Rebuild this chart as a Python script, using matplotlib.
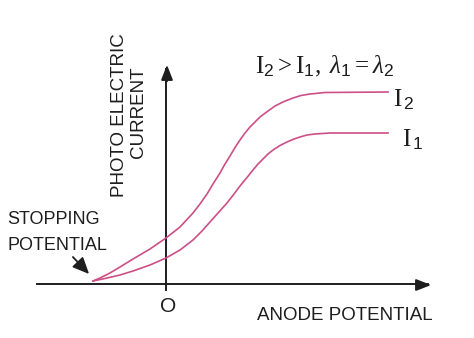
import matplotlib.pyplot as plt

plt.rcParams['font.family'] = ['Liberation Sans', 'DejaVu Sans']
plt.rcParams['mathtext.fontset'] = 'custom'
plt.rcParams['mathtext.rm'] = 'Liberation Serif'
plt.rcParams['mathtext.it'] = 'Liberation Serif:italic'
plt.rcParams['mathtext.sf'] = 'Liberation Sans'

# anode potential (arbitrary units, 0 = origin) and photo current
v_i2 = [-73, -66, -56, -46, -33, -16, 0, 14, 27, 34, 41, 47, 54, 59, 64, 69, 74, 79, 84, 94,
        100, 109, 118, 127, 135, 144, 159, 222]
i2 = [3, 6, 11, 17, 25, 35, 46, 57, 71, 80, 90, 100, 111, 120, 128, 136.5, 144, 151, 157, 167,
      171.5, 178, 182.5, 186, 188.5, 190, 191.5, 192]
v_i1 = [-73, -61, -46, -33, -16, 0, 14, 27, 36, 44, 52, 61, 68, 74, 81, 87, 92, 97, 102, 107,
        114, 121, 128, 134, 141, 149, 164, 222]
i1 = [3, 5.5, 9, 13, 19, 26, 34, 44, 53, 62, 71, 81, 90, 98, 106.5, 114, 120, 125, 130, 134,
      138.5, 142, 145, 147, 149, 150, 151, 151]

curve_col = '#cc4f88'
axis_col = '#1e1e1e'

fig = plt.figure(figsize=(4.74, 3.38), dpi=100)
ax = fig.add_axes([0, 0, 1, 1])
ax.set_xlim(-166, 308)
ax.set_ylim(-54, 284)
ax.axis('off')

# axes with arrow heads
ax.plot([-129, 262], [0, 0], color=axis_col, lw=1.4)
ax.annotate('', xy=(268, -1), xytext=(250, -1),
            arrowprops=dict(arrowstyle='-|>,head_length=0.9,head_width=0.35',
                            color=axis_col, lw=1.4))
ax.plot([0, 0], [-6, 215], color=axis_col, lw=1.4)
ax.annotate('', xy=(1, 222), xytext=(1, 200),
            arrowprops=dict(arrowstyle='-|>,head_length=0.9,head_width=0.35',
                            color=axis_col, lw=1.4))

# curves
ax.plot(v_i2, i2, color=curve_col, lw=1.2, solid_joinstyle='round')
ax.plot(v_i1, i1, color=curve_col, lw=1.2, solid_joinstyle='round')

# stopping potential arrow
ax.annotate('', xy=(-75, 8), xytext=(-95, 29),
            arrowprops=dict(arrowstyle='-|>,head_length=1.0,head_width=0.45',
                            color=axis_col, lw=1.3))

# texts
ax.text(2, -23, 'O', fontsize=15, ha='center', va='center', color=axis_col)
ax.text(91, -31, 'ANODE POTENTIAL', fontsize=13.5, ha='left', va='center', color=axis_col)
ax.text(-159, 64, 'STOPPING', fontsize=13, ha='left', va='center', color=axis_col)
ax.text(-159, 39, 'POTENTIAL', fontsize=13, ha='left', va='center', color=axis_col)
ax.text(-47, 87, 'PHOTO ELECTRIC', fontsize=13.5, rotation=90, ha='center', va='bottom', color=axis_col)
ax.text(-27, 172, 'CURRENT', fontsize=13.5, rotation=90, ha='center', va='center', color=axis_col)
ax.text(89, 218, r'$\mathrm{I}_\mathsf{2} > \mathrm{I}_\mathsf{1},\ \lambda_\mathsf{1} = \lambda_\mathsf{2}$',
        fontsize=18, ha='left', va='center', color=axis_col)
ax.text(227, 184, r'$\mathrm{I}_{\,\mathsf{2}}$', fontsize=18, ha='left', va='center', color=axis_col)
ax.text(236, 144, r'$\mathrm{I}_{\,\mathsf{1}}$', fontsize=18, ha='left', va='center', color=axis_col)

fig.savefig('out.png', dpi=100)
